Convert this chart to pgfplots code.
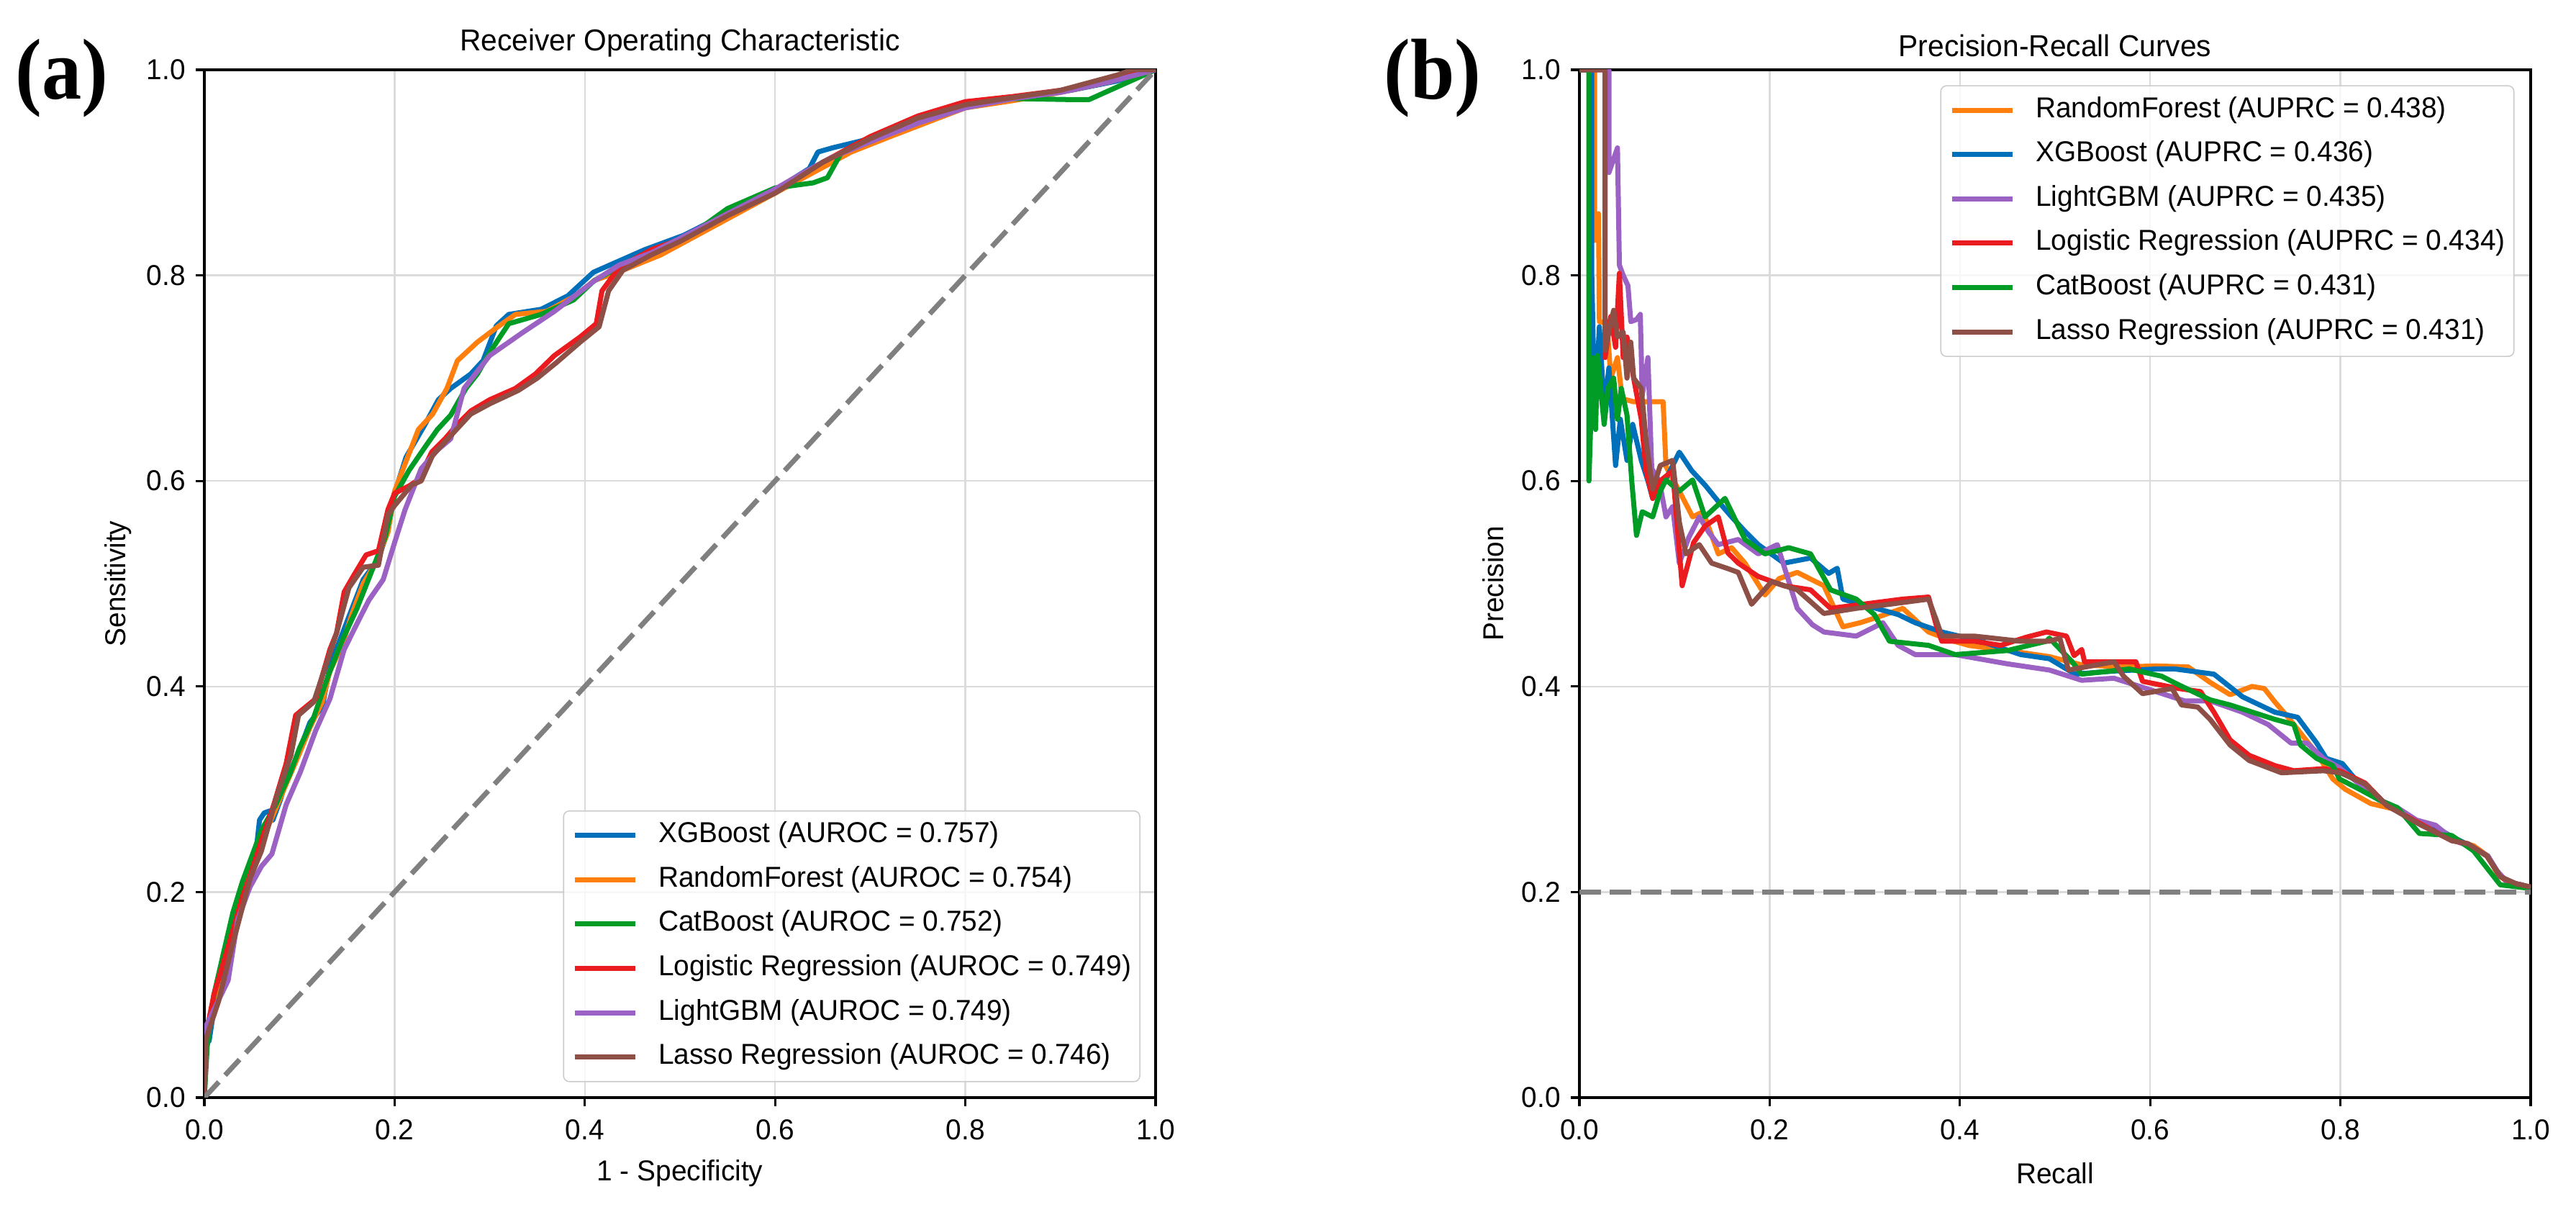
\documentclass[border=0pt]{standalone}
\usepackage{fontspec}
\setmainfont[FakeStretch=0.97]{Liberation Sans}
\newfontfamily\panelfont[FakeStretch=0.92]{Liberation Serif}
\usepackage{pgfplots}
\pgfplotsset{compat=1.18}

\definecolor{cBlue}{RGB}{0,112,187}
\definecolor{cOrange}{RGB}{255,127,14}
\definecolor{cGreen}{RGB}{0,156,38}
\definecolor{cRed}{RGB}{234,28,32}
\definecolor{cPurple}{RGB}{155,98,196}
\definecolor{cBrown}{RGB}{142,80,70}
\definecolor{cRef}{RGB}{128,128,128}

\pgfplotsset{
  panel/.style={
    scale only axis, width=330.5pt, height=357pt,
    xmin=0, xmax=1, ymin=0, ymax=1,
    xtick={0,0.2,0.4,0.6,0.8,1}, ytick={0,0.2,0.4,0.6,0.8,1},
    grid=major, major grid style={black!14, line width=0.6pt},
    tick align=outside, tick pos=left, major tick length=3pt,
    tick style={black, line width=0.8pt},
    axis line style={black, line width=0.8pt},
    tick label style={font=\fontsize{10}{12}\selectfont},
    xticklabel style={yshift=-1.2pt},
    label style={font=\fontsize{10}{12}\selectfont},
    every axis y label/.style={at={(axis description cs:-0.0908,0.5)}, rotate=90, anchor=center},
    every axis x label/.style={at={(axis description cs:0.5,-0.0735)}, anchor=center},
    title style={font=\fontsize{10.5}{12}\selectfont, at={(0.5,1)}, anchor=south, yshift=-5pt},
    legend cell align=left,
    legend image code/.code={\draw[#1, line width=1.75pt] (0pt,0pt) -- (21pt,0pt);},
    legend style={draw=black!20, rounded corners=2pt, fill=white, fill opacity=0.8, text opacity=1,
      font=\fontsize{10}{12}\selectfont, inner xsep=3pt, inner ysep=3.5pt,
      row sep=5.4pt, column sep=7.3pt,
      nodes={inner sep=0pt, text height=7.5pt, text depth=2.5pt}},
    /pgf/number format/fixed, /pgf/number format/fixed zerofill,
    /pgf/number format/precision=1, /pgf/number format/assume math mode=true,
  },
  curve/.style={line width=1.75pt, line join=round, #1},
}

\begin{document}
\begin{tikzpicture}
\useasboundingbox (0,0) rectangle (895pt,419.25pt);

% ---------------- ROC curves ----------------
\begin{axis}[panel, at={(71pt,38pt)}, anchor=south west,
  title={Receiver Operating Characteristic},
  xlabel={1 - Specificity}, ylabel={Sensitivity},
  legend style={at={(0.984,0.015)}, anchor=south east}]
\addplot[curve=cBlue] coordinates {
(0,0) (0.001,0.06) (0.005,0.055) (0.012,0.098) (0.02,0.133) (0.03,0.173) (0.04,0.205)
(0.05,0.229) (0.055,0.245) (0.058,0.27) (0.063,0.277) (0.069,0.279) (0.072,0.27) (0.08,0.29)
(0.086,0.309) (0.098,0.333) (0.111,0.365) (0.124,0.38) (0.132,0.42) (0.142,0.444) (0.152,0.468)
(0.167,0.504) (0.183,0.524) (0.193,0.552) (0.2,0.588) (0.212,0.623) (0.232,0.655) (0.246,0.679)
(0.259,0.69) (0.28,0.704) (0.293,0.717) (0.307,0.751) (0.32,0.762) (0.354,0.767) (0.382,0.78)
(0.409,0.803) (0.436,0.814) (0.463,0.825) (0.504,0.839) (0.551,0.861) (0.6,0.883) (0.636,0.904)
(0.645,0.92) (0.66,0.924) (0.687,0.93) (0.708,0.935) (0.721,0.942) (0.766,0.957) (0.8,0.966)
(0.85,0.973) (0.911,0.98) (0.959,0.989) (1,1)};
\addlegendentry{XGBoost (AUROC = 0.757)}
\addplot[curve=cOrange] coordinates {
(0,0) (0.001,0.05) (0.008,0.09) (0.012,0.1) (0.02,0.14) (0.03,0.175) (0.04,0.2) (0.05,0.225)
(0.06,0.25) (0.07,0.27) (0.086,0.305) (0.1,0.335) (0.111,0.36) (0.124,0.385) (0.132,0.415)
(0.145,0.44) (0.155,0.47) (0.167,0.5) (0.18,0.52) (0.193,0.55) (0.2,0.59) (0.212,0.619)
(0.225,0.65) (0.24,0.665) (0.255,0.69) (0.266,0.717) (0.287,0.735) (0.307,0.749) (0.327,0.762)
(0.36,0.765) (0.39,0.78) (0.41,0.795) (0.44,0.805) (0.48,0.82) (0.52,0.84) (0.56,0.86)
(0.6,0.88) (0.64,0.9) (0.68,0.92) (0.721,0.935) (0.766,0.951) (0.8,0.963) (0.85,0.97)
(0.9,0.978) (0.95,0.988) (1,1)};
\addlegendentry{RandomForest (AUROC = 0.754)}
\addplot[curve=cGreen] coordinates {
(0,0) (0.003,0.05) (0.01,0.1) (0.02,0.14) (0.03,0.18) (0.04,0.21) (0.05,0.235) (0.06,0.26)
(0.075,0.285) (0.09,0.315) (0.1,0.34) (0.115,0.37) (0.13,0.41) (0.145,0.445) (0.16,0.475)
(0.175,0.51) (0.19,0.545) (0.2,0.585) (0.215,0.61) (0.232,0.633) (0.245,0.65) (0.259,0.664)
(0.275,0.69) (0.287,0.704) (0.3,0.725) (0.32,0.753) (0.354,0.762) (0.388,0.776) (0.41,0.795)
(0.44,0.81) (0.48,0.825) (0.52,0.845) (0.55,0.865) (0.6,0.885) (0.64,0.89) (0.655,0.895)
(0.67,0.92) (0.7,0.93) (0.75,0.95) (0.8,0.964) (0.85,0.972) (0.911,0.971) (0.93,0.971) (1,1)};
\addlegendentry{CatBoost (AUROC = 0.752)}
\addplot[curve=cRed] coordinates {
(0,0) (0.001,0.058) (0.01,0.1) (0.027,0.153) (0.04,0.195) (0.05,0.221) (0.06,0.25)
(0.073,0.285) (0.086,0.325) (0.096,0.372) (0.117,0.388) (0.132,0.436) (0.139,0.452)
(0.147,0.492) (0.157,0.508) (0.17,0.528) (0.183,0.532) (0.193,0.572) (0.2,0.588) (0.215,0.595)
(0.225,0.601) (0.239,0.628) (0.253,0.641) (0.266,0.655) (0.28,0.668) (0.3,0.679) (0.327,0.69)
(0.348,0.704) (0.368,0.722) (0.395,0.74) (0.412,0.753) (0.418,0.785) (0.43,0.8) (0.45,0.815)
(0.47,0.825) (0.5,0.835) (0.55,0.86) (0.6,0.882) (0.65,0.91) (0.7,0.935) (0.75,0.955)
(0.8,0.969) (0.85,0.974) (0.9,0.98) (0.95,0.99) (0.98,1) (1,1)};
\addlegendentry{Logistic Regression (AUROC = 0.749)}
\addplot[curve=cPurple] coordinates {
(0,0) (0.002,0.07) (0.015,0.095) (0.025,0.114) (0.035,0.173) (0.048,0.205) (0.06,0.225)
(0.071,0.237) (0.086,0.285) (0.101,0.317) (0.117,0.357) (0.132,0.388) (0.147,0.436)
(0.162,0.464) (0.173,0.484) (0.188,0.504) (0.2,0.54) (0.211,0.572) (0.228,0.612) (0.245,0.63)
(0.259,0.641) (0.273,0.69) (0.3,0.722) (0.334,0.744) (0.368,0.765) (0.409,0.794) (0.436,0.81)
(0.47,0.822) (0.5,0.836) (0.55,0.86) (0.6,0.884) (0.63,0.9) (0.66,0.915) (0.7,0.93)
(0.75,0.948) (0.8,0.963) (0.85,0.972) (0.9,0.978) (0.95,0.988) (1,1)};
\addlegendentry{LightGBM (AUROC = 0.749)}
\addplot[curve=cBrown] coordinates {
(0,0) (0.002,0.058) (0.015,0.094) (0.03,0.15) (0.048,0.213) (0.06,0.24) (0.076,0.293)
(0.091,0.333) (0.099,0.372) (0.115,0.385) (0.129,0.424) (0.139,0.452) (0.152,0.496)
(0.167,0.516) (0.183,0.518) (0.193,0.567) (0.2,0.576) (0.218,0.596) (0.228,0.6) (0.24,0.625)
(0.26,0.645) (0.28,0.665) (0.3,0.675) (0.33,0.688) (0.35,0.7) (0.37,0.715) (0.395,0.735)
(0.415,0.75) (0.425,0.785) (0.44,0.805) (0.47,0.82) (0.5,0.833) (0.55,0.858) (0.6,0.88)
(0.65,0.91) (0.7,0.933) (0.75,0.953) (0.8,0.966) (0.85,0.973) (0.9,0.98) (0.92,0.985)
(0.96,0.995) (0.975,1) (1,1)};
\addlegendentry{Lasso Regression (AUROC = 0.746)}
\addplot[forget plot, cRef, line width=1.75pt, dash pattern=on 7.4pt off 3.2pt] coordinates {(0,0) (1,1)};
\end{axis}

% ---------------- Precision-recall curves ----------------
\begin{axis}[panel, at={(548.75pt,38pt)}, anchor=south west,
  title={Precision-Recall Curves},
  xlabel={Recall}, ylabel={Precision},
  legend style={at={(0.983,0.985)}, anchor=north east}]
\addplot[curve=cOrange] coordinates {
(0,1) (0.016,1) (0.016,0.834) (0.02,0.86) (0.021,0.755) (0.029,0.753) (0.033,0.7) (0.04,0.72)
(0.045,0.68) (0.057,0.677) (0.088,0.677) (0.091,0.614) (0.105,0.59) (0.119,0.565) (0.13,0.57)
(0.146,0.529) (0.16,0.535) (0.174,0.52) (0.195,0.489) (0.21,0.505) (0.229,0.511) (0.257,0.498)
(0.277,0.458) (0.295,0.462) (0.312,0.467) (0.34,0.476) (0.367,0.453) (0.39,0.445) (0.409,0.44)
(0.45,0.435) (0.494,0.429) (0.528,0.421) (0.572,0.419) (0.606,0.42) (0.64,0.419) (0.663,0.404)
(0.684,0.392) (0.707,0.4) (0.72,0.398) (0.731,0.385) (0.745,0.37) (0.762,0.35) (0.775,0.335)
(0.792,0.31) (0.805,0.3) (0.832,0.286) (0.86,0.28) (0.88,0.268) (0.9,0.262) (0.92,0.25)
(0.94,0.245) (0.955,0.235) (0.965,0.218) (0.975,0.21) (0.99,0.207) (1,0.204)};
\addlegendentry{RandomForest (AUPRC = 0.438)}
\addplot[curve=cBlue] coordinates {
(0,1) (0.013,1) (0.013,0.8) (0.016,0.665) (0.021,0.75) (0.026,0.67) (0.031,0.71) (0.038,0.615)
(0.043,0.66) (0.05,0.62) (0.056,0.655) (0.065,0.62) (0.072,0.6) (0.077,0.583) (0.09,0.6)
(0.105,0.628) (0.118,0.61) (0.132,0.596) (0.146,0.58) (0.16,0.565) (0.175,0.55) (0.188,0.538)
(0.2,0.53) (0.215,0.52) (0.243,0.525) (0.262,0.51) (0.271,0.515) (0.277,0.485) (0.295,0.48)
(0.312,0.476) (0.335,0.47) (0.353,0.462) (0.381,0.453) (0.422,0.444) (0.464,0.431)
(0.494,0.427) (0.521,0.412) (0.562,0.415) (0.606,0.417) (0.626,0.417) (0.667,0.412)
(0.697,0.39) (0.731,0.375) (0.755,0.37) (0.775,0.345) (0.785,0.33) (0.802,0.325) (0.819,0.306)
(0.84,0.29) (0.86,0.28) (0.88,0.268) (0.9,0.263) (0.915,0.255) (0.93,0.248) (0.955,0.235)
(0.965,0.22) (0.975,0.21) (0.99,0.207) (1,0.204)};
\addlegendentry{XGBoost (AUPRC = 0.436)}
\addplot[curve=cPurple] coordinates {
(0,1) (0.031,1) (0.031,0.9) (0.04,0.924) (0.042,0.81) (0.046,0.8) (0.051,0.79) (0.054,0.755)
(0.06,0.757) (0.064,0.762) (0.066,0.683) (0.072,0.72) (0.076,0.612) (0.084,0.6) (0.091,0.565)
(0.098,0.575) (0.105,0.52) (0.115,0.545) (0.126,0.565) (0.136,0.55) (0.146,0.538) (0.167,0.543)
(0.188,0.529) (0.208,0.538) (0.229,0.476) (0.245,0.46) (0.257,0.453) (0.291,0.449) (0.319,0.462)
(0.335,0.44) (0.353,0.431) (0.395,0.431) (0.45,0.422) (0.494,0.416) (0.528,0.406) (0.562,0.408)
(0.596,0.398) (0.636,0.386) (0.663,0.386) (0.697,0.375) (0.724,0.363) (0.748,0.345)
(0.765,0.345) (0.782,0.33) (0.799,0.321) (0.82,0.305) (0.84,0.29) (0.86,0.282) (0.88,0.27)
(0.9,0.265) (0.92,0.25) (0.94,0.243) (0.955,0.235) (0.965,0.22) (0.975,0.21) (0.99,0.207) (1,0.204)};
\addlegendentry{LightGBM (AUPRC = 0.435)}
\addplot[curve=cRed] coordinates {
(0,1) (0.027,1) (0.027,0.72) (0.033,0.76) (0.038,0.73) (0.042,0.802) (0.046,0.72) (0.05,0.74)
(0.057,0.7) (0.065,0.66) (0.07,0.61) (0.077,0.583) (0.085,0.6) (0.098,0.61) (0.108,0.498)
(0.12,0.54) (0.132,0.556) (0.146,0.565) (0.156,0.53) (0.167,0.52) (0.188,0.507) (0.215,0.498)
(0.243,0.494) (0.264,0.476) (0.298,0.48) (0.34,0.485) (0.367,0.487) (0.375,0.46) (0.381,0.444)
(0.415,0.444) (0.443,0.44) (0.47,0.448) (0.491,0.453) (0.512,0.449) (0.52,0.43) (0.528,0.436)
(0.531,0.424) (0.562,0.424) (0.585,0.424) (0.592,0.405) (0.63,0.398) (0.653,0.395) (0.667,0.375)
(0.684,0.348) (0.704,0.333) (0.731,0.323) (0.751,0.318) (0.782,0.32) (0.799,0.318) (0.826,0.306)
(0.849,0.284) (0.883,0.267) (0.917,0.25) (0.934,0.247) (0.954,0.235) (0.968,0.215) (0.985,0.207)
(1,0.205)};
\addlegendentry{Logistic Regression (AUPRC = 0.434)}
\addplot[curve=cGreen] coordinates {
(0,1) (0.01,1) (0.01,0.6) (0.014,0.72) (0.017,0.65) (0.019,0.722) (0.026,0.655) (0.03,0.69)
(0.036,0.7) (0.04,0.66) (0.044,0.69) (0.05,0.664) (0.055,0.6) (0.06,0.547) (0.066,0.57)
(0.077,0.565) (0.085,0.59) (0.091,0.601) (0.105,0.59) (0.119,0.601) (0.132,0.565) (0.153,0.583)
(0.174,0.543) (0.195,0.529) (0.22,0.535) (0.243,0.529) (0.264,0.494) (0.291,0.485) (0.31,0.47)
(0.326,0.444) (0.367,0.44) (0.395,0.431) (0.45,0.435) (0.491,0.444) (0.494,0.447) (0.518,0.424)
(0.528,0.412) (0.578,0.417) (0.612,0.41) (0.629,0.402) (0.663,0.387) (0.684,0.382) (0.731,0.368)
(0.751,0.363) (0.758,0.343) (0.775,0.33) (0.792,0.323) (0.799,0.31) (0.82,0.3) (0.84,0.29)
(0.86,0.282) (0.883,0.257) (0.917,0.255) (0.94,0.24) (0.968,0.207) (0.995,0.204) (1,0.203)};
\addlegendentry{CatBoost (AUPRC = 0.431)}
\addplot[curve=cBrown] coordinates {
(0,1) (0.027,1) (0.027,0.727) (0.032,0.75) (0.036,0.766) (0.04,0.74) (0.046,0.745) (0.05,0.7)
(0.054,0.735) (0.057,0.7) (0.065,0.69) (0.07,0.64) (0.077,0.592) (0.085,0.615) (0.098,0.62)
(0.105,0.56) (0.112,0.529) (0.126,0.538) (0.139,0.52) (0.155,0.515) (0.167,0.511) (0.181,0.48)
(0.202,0.502) (0.229,0.494) (0.257,0.471) (0.291,0.476) (0.326,0.48) (0.367,0.485) (0.375,0.465)
(0.381,0.449) (0.415,0.449) (0.464,0.444) (0.494,0.444) (0.505,0.447) (0.514,0.416) (0.562,0.424)
(0.572,0.41) (0.592,0.393) (0.623,0.398) (0.633,0.382) (0.65,0.38) (0.663,0.368) (0.684,0.343)
(0.704,0.328) (0.738,0.316) (0.782,0.318) (0.8,0.316) (0.826,0.305) (0.849,0.284) (0.883,0.266)
(0.917,0.25) (0.934,0.247) (0.954,0.235) (0.968,0.215) (0.985,0.208) (1,0.205)};
\addlegendentry{Lasso Regression (AUPRC = 0.431)}
\addplot[forget plot, cRef, line width=1.75pt, dash pattern=on 7.4pt off 3.2pt] coordinates {(0,0.2) (1,0.2)};
\end{axis}

% panel letters
\node[font=\panelfont\bfseries\fontsize{30}{30}\selectfont, anchor=center] at (21.5pt,392pt) {(a)};
\node[font=\panelfont\bfseries\fontsize{30}{30}\selectfont, anchor=center] at (497.75pt,392pt) {(b)};
\end{tikzpicture}
\end{document}
